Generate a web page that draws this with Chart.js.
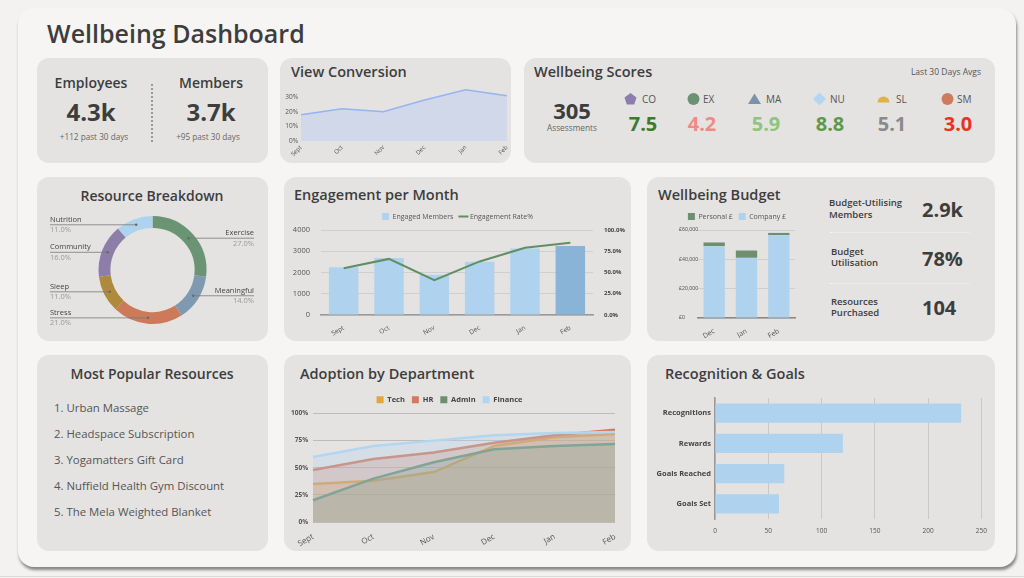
<!DOCTYPE html>
<html>
<head>
<meta charset="utf-8">
<script src="https://cdn.jsdelivr.net/npm/chart.js@4.4.0/dist/chart.umd.min.js"></script>
<style>
body{margin:0;width:1024px;height:578px;background:#f3f2f1;font-family:"Open Sans",sans-serif;color:#3d3d3d;overflow:hidden;position:relative;}
.frame{position:absolute;left:18px;top:8px;width:998px;height:559px;background:#f6f5f3;border-radius:16px;box-shadow:1px 3px 3px rgba(0,0,0,0.45);}
.edge{position:absolute;left:0;top:576px;width:1024px;height:1px;background:#dcdcdc;}
.panel{position:absolute;background:#e4e3e1;border-radius:12px;}
.t{position:absolute;white-space:nowrap;line-height:1;transform:translate(0,-50%);}
.c{transform:translate(-50%,-50%);}
.r{transform:translate(-100%,-50%);}
.h{font-weight:600;color:#3d3d3d;}
.box{position:absolute;}
.dots{position:absolute;border-top:1px dotted #f4f4f4;height:0;}
.vdots{position:absolute;border-left:2px dotted #9a9a9a;width:0;}
</style>
</head>
<body>
<div class="frame"></div>
<div class="edge"></div>

<div class="t h" style="left:47px;top:33px;font-size:25px;">Wellbeing Dashboard</div>

<!-- row 1 -->
<div class="panel" style="left:37px;top:58px;width:231px;height:105px;"></div>
<div class="panel" style="left:280px;top:58px;width:231px;height:105px;"></div>
<div class="panel" style="left:524px;top:58px;width:471px;height:105px;"></div>
<!-- row 2 -->
<div class="panel" style="left:37px;top:177px;width:231px;height:164px;"></div>
<div class="panel" style="left:284px;top:177px;width:347px;height:164px;"></div>
<div class="panel" style="left:647px;top:177px;width:348px;height:164px;"></div>
<!-- row 3 -->
<div class="panel" style="left:37px;top:355px;width:231px;height:196px;"></div>
<div class="panel" style="left:284px;top:355px;width:347px;height:196px;"></div>
<div class="panel" style="left:647px;top:355px;width:348px;height:196px;"></div>

<!-- employees / members -->
<div class="t c h" style="left:91px;top:83px;font-size:14px;">Employees</div>
<div class="t c" style="left:91px;top:112px;font-size:24px;font-weight:700;">4.3k</div>
<div class="t c" style="left:94px;top:137px;font-size:8.2px;color:#666;">+112 past 30 days</div>
<div class="vdots" style="left:151px;top:84px;height:58px;"></div>
<div class="t c h" style="left:211px;top:83px;font-size:14px;">Members</div>
<div class="t c" style="left:211px;top:112px;font-size:24px;font-weight:700;">3.7k</div>
<div class="t c" style="left:208px;top:137px;font-size:8.2px;color:#666;">+95 past 30 days</div>

<!-- view conversion -->
<div class="t h" style="left:291px;top:72px;font-size:14.5px;">View Conversion</div>
<div class="box" style="left:280px;top:80px;width:235px;height:82px;"><canvas id="viewChart"></canvas></div>

<!-- wellbeing scores -->
<div class="t h" style="left:534px;top:72px;font-size:14.5px;">Wellbeing Scores</div>
<div class="t r" style="left:981px;top:72px;font-size:8.5px;color:#555;">Last 30 Days Avgs</div>
<div class="t c" style="left:572px;top:110px;font-size:22px;font-weight:700;">305</div>
<div class="t c" style="left:572px;top:128px;font-size:8.3px;color:#666;">Assessments</div>
<div id="scores"></div>

<!-- resource breakdown -->
<div class="t c h" style="left:152px;top:196px;font-size:14px;">Resource Breakdown</div>
<div class="box" style="left:37px;top:205px;width:231px;height:130px;"><canvas id="resourceChart"></canvas></div>

<!-- engagement -->
<div class="t h" style="left:294px;top:195px;font-size:14.5px;">Engagement per Month</div>
<div class="box" style="left:284px;top:205px;width:347px;height:133px;"><canvas id="engageChart"></canvas></div>

<!-- budget -->
<div class="t h" style="left:658px;top:195px;font-size:14.5px;">Wellbeing Budget</div>
<div class="box" style="left:647px;top:205px;width:173px;height:133px;"><canvas id="budgetChart"></canvas></div>
<div class="t h" style="left:829px;top:203px;font-size:9.5px;">Budget-Utilising</div>
<div class="t h" style="left:829px;top:215px;font-size:9.5px;">Members</div>
<div class="t" style="left:922px;top:210px;font-size:20px;font-weight:700;">2.9k</div>
<div class="dots" style="left:830px;top:232px;width:140px;"></div>
<div class="t h" style="left:831px;top:252px;font-size:9.5px;">Budget</div>
<div class="t h" style="left:831px;top:263px;font-size:9.5px;">Utilisation</div>
<div class="t" style="left:922px;top:259px;font-size:20px;font-weight:700;">78%</div>
<div class="dots" style="left:830px;top:283px;width:140px;"></div>
<div class="t h" style="left:831px;top:302px;font-size:9.5px;">Resources</div>
<div class="t h" style="left:831px;top:313px;font-size:9.5px;">Purchased</div>
<div class="t" style="left:922px;top:308px;font-size:20px;font-weight:700;">104</div>

<!-- popular resources -->
<div class="t c h" style="left:152px;top:374px;font-size:14px;">Most Popular Resources</div>
<div id="popular"></div>

<!-- adoption -->
<div class="t h" style="left:300px;top:374px;font-size:14.5px;">Adoption by Department</div>
<div class="box" style="left:284px;top:385px;width:347px;height:163px;"><canvas id="adoptChart"></canvas></div>

<!-- recognition -->
<div class="t h" style="left:665px;top:374px;font-size:14.5px;">Recognition &amp; Goals</div>
<div class="box" style="left:647px;top:385px;width:348px;height:160px;"><canvas id="goalChart"></canvas></div>

<script>
const months=['Sept','Oct','Nov','Dec','Jan','Feb'];
const viewConversion=[18,22,20,28,35,31];

const engagedMembers=[2250,2680,1900,2510,3130,3250];
const engagementRate=[55,66,41,63,79,85];

const budgetMonths=['Dec','Jan','Feb'];
const personalBudget=[2500,5000,1500];
const companyBudget=[49000,41000,56500];

const resourceLabels=['Exercise','Meaningful','Stress','Sleep','Community','Nutrition'];
const resourceValues=[27,14,21,11,16,11];
const resourceColors=['#6a9474','#7f9ab0','#cd7a5b','#b08a3c','#8c7ea8','#add3ef'];

const deptTech=[35,38,46,70,78,81];
const deptHR=[48,58,64,73,80,85];
const deptAdmin=[20,40,55,67,70,72];
const deptFinance=[60,70,75,80,82,83];

const goalLabels=['Recognitions','Rewards','Goals Reached','Goals Set'];
const goalValues=[231,120,65,60];

const scoreCodes=['CO','EX','MA','NU','SL','SM'];
const scoreValues=['7.5','4.2','5.9','8.8','5.1','3.0'];
const scoreColors=['#3f7a2c','#f08a84','#8fc47f','#5c9a4a','#8a8a8a','#e8321e'];

const popularResources=['Urban Massage','Headspace Subscription','Yogamatters Gift Card','Nuffield Health Gym Discount','The Mela Weighted Blanket'];

// score row, icons are plain svg
const iconSvg={
    CO:'<polygon points="6.5,0.5 12.5,5 10.2,12 2.8,12 0.5,5" fill="#8d7cae"/>',
    EX:'<circle cx="6.5" cy="6.5" r="6" fill="#6b9273"/>',
    MA:'<polygon points="6.5,1 13,11.5 0,11.5" fill="#7a92aa"/>',
    NU:'<polygon points="6.5,0 13,6.5 6.5,13 0,6.5" fill="#b3d6f2"/>',
    SL:'<path d="M0.5,10 A6,6 0 0 1 12.5,10 Z" fill="#e0b04a"/>',
    SM:'<circle cx="6.5" cy="6.5" r="6" fill="#cf7c5e"/>'
};
const iconX=[630,693,754,819,883,947];
const labelX=[642,703,766,830,896,957];
const valueX=[643,702,766,830,892,958];
let scoreHtml="";
scoreCodes.forEach((code,i)=>{
    scoreHtml+=`<svg class="t" style="left:${iconX[i]-6.5}px;top:99px" width="13" height="13">${iconSvg[code]}</svg>`;
    scoreHtml+=`<div class="t" style="left:${labelX[i]}px;top:99px;font-size:10px;color:#555;">${code}</div>`;
    scoreHtml+=`<div class="t c" style="left:${valueX[i]}px;top:124px;font-size:20px;font-weight:700;color:${scoreColors[i]};">${scoreValues[i]}</div>`;
});
document.getElementById("scores").innerHTML=scoreHtml;

let popHtml="";
popularResources.forEach((name,i)=>{
    popHtml+=`<div class="t" style="left:54px;top:${408+i*26}px;font-size:11.4px;color:#555;">${i+1}. ${name}</div>`;
});
document.getElementById("popular").innerHTML=popHtml;

Chart.defaults.font.family='"Open Sans", sans-serif';
Chart.defaults.color='#555';
Chart.defaults.animation=false;
Chart.defaults.plugins.tooltip.enabled=false;

function solidLegend(chart){
    const items=Chart.defaults.plugins.legend.labels.generateLabels(chart);
    items.forEach(it=>{ it.fillStyle=it.strokeStyle; it.lineWidth=0; });
    return items;
}

// view conversion
new Chart(document.getElementById('viewChart'),{
    type:'line',
    data:{
        labels:months,
        datasets:[{
            data:viewConversion,
            borderColor:'#95b4f2',
            backgroundColor:'#d0d8ea',
            borderWidth:1.5,
            fill:'origin',
            pointRadius:0,
            tension:0
        }]
    },
    options:{
        responsive:true,
        maintainAspectRatio:false,
        layout:{padding:{top:0,right:0}},
        plugins:{legend:{display:false}},
        scales:{
            x:{
                offset:false,
                grid:{display:false,drawTicks:false},
                border:{display:false},
                ticks:{font:{size:6},minRotation:45,maxRotation:45,autoSkip:false,padding:3},
                afterFit:s=>{s.height=21;}
            },
            y:{
                min:0,max:37,
                grid:{display:false,drawTicks:false},
                border:{display:false},
                ticks:{font:{size:6.5},padding:3,stepSize:10,callback:v=>v%10===0?v+'%':''},
                afterFit:s=>{s.width=21;}
            }
        }
    }
});

// resource doughnut with callout labels
const calloutPlugin={
    id:'callouts',
    afterDraw(chart){
        const ctx=chart.ctx;
        const meta=chart.getDatasetMeta(0);
        const values=chart.data.datasets[0].data;
        const total=values.reduce((a,b)=>a+b,0);
        ctx.save();
        meta.data.forEach((arc,i)=>{
            const p=arc.getProps(['x','y','startAngle','endAngle','innerRadius','outerRadius'],true);
            const mid=(p.startAngle+p.endAngle)/2;
            const r=(p.innerRadius+p.outerRadius)/2;
            const ax=p.x+Math.cos(mid)*r;
            const ay=p.y+Math.sin(mid)*r;
            const right=Math.cos(mid)>0;
            const tx=right?chart.width-14:13;
            ctx.strokeStyle='#7a7a7a';
            ctx.lineWidth=0.8;
            ctx.beginPath();
            ctx.moveTo(tx,ay);
            ctx.lineTo(ax,ay);
            ctx.stroke();
            ctx.fillStyle='#6a6a6a';
            ctx.beginPath();
            ctx.arc(ax,ay,1.3,0,Math.PI*2);
            ctx.fill();
            ctx.textAlign=right?'right':'left';
            ctx.font='7.5px "Open Sans", sans-serif';
            ctx.fillStyle='#444';
            ctx.textBaseline='bottom';
            ctx.fillText(chart.data.labels[i],tx,ay-1.5);
            ctx.fillStyle='#999';
            ctx.textBaseline='top';
            ctx.fillText((values[i]/total*100).toFixed(1)+'%',tx,ay+1.5);
        });
        ctx.restore();
    }
};
new Chart(document.getElementById('resourceChart'),{
    type:'doughnut',
    data:{
        labels:resourceLabels,
        datasets:[{data:resourceValues,backgroundColor:resourceColors,borderWidth:0}]
    },
    options:{
        responsive:true,
        maintainAspectRatio:false,
        cutout:'78%',
        layout:{padding:{top:11,bottom:11}},
        plugins:{legend:{display:false}}
    },
    plugins:[calloutPlugin]
});

// engagement per month
new Chart(document.getElementById('engageChart'),{
    data:{
        labels:months,
        datasets:[
            {
                type:'bar',
                label:'Engaged Members',
                data:engagedMembers,
                backgroundColor:engagedMembers.map((v,i)=>i===engagedMembers.length-1?'#8ab3d8':'#afd2ee'),
                barPercentage:0.65,
                categoryPercentage:1,
                yAxisID:'y',
                order:2
            },
            {
                type:'line',
                label:'Engagement Rate%',
                data:engagementRate,
                borderColor:'#5f8f62',
                backgroundColor:'#5f8f62',
                borderWidth:2,
                pointRadius:0,
                tension:0,
                yAxisID:'y1',
                order:1
            }
        ]
    },
    options:{
        responsive:true,
        maintainAspectRatio:false,
        layout:{padding:{top:2}},
        plugins:{
            legend:{
                reverse:true,
                labels:{
                    font:{size:7},
                    boxWidth:7,boxHeight:7,padding:6,
                    generateLabels(chart){
                        const items=Chart.defaults.plugins.legend.labels.generateLabels(chart);
                        items.forEach(it=>{
                            if(it.text==='Engagement Rate%'){ it.fillStyle='rgba(0,0,0,0)'; it.lineWidth=0; }
                            else { it.fillStyle='#afd2ee'; it.lineWidth=0; }
                        });
                        return items;
                    }
                }
            }
        },
        scales:{
            x:{
                grid:{display:false},
                border:{color:'#999',width:1.5},
                ticks:{font:{size:6.5},minRotation:30,maxRotation:30,autoSkip:false,padding:1},
                afterFit:s=>{s.height=23;}
            },
            y:{
                position:'left',
                min:0,max:4000,
                grid:{color:'#d0cfcd',drawTicks:false},
                border:{display:false},
                ticks:{font:{size:7.5},padding:11,stepSize:1000,callback:v=>String(v)},
                afterFit:s=>{s.width=37;}
            },
            y1:{
                position:'right',
                min:0,max:100,
                grid:{display:false,drawTicks:false},
                border:{display:false},
                ticks:{font:{size:6,weight:'bold'},padding:11,color:'#444',stepSize:25,callback:v=>v.toFixed(1)+'%'},
                afterFit:s=>{s.width=38;}
            }
        }
    },
    plugins:[{
        id:'lineLegendMark',
        afterDraw(chart){
            const legend=chart.legend;
            const ctx=chart.ctx;
            legend.legendItems.forEach((it,i)=>{
                if(it.text!=='Engagement Rate%') return;
                const hb=legend.legendHitBoxes[i];
                ctx.save();
                ctx.strokeStyle='#5f8f62';
                ctx.lineWidth=2;
                ctx.beginPath();
                ctx.moveTo(hb.left-1,hb.top+hb.height/2);
                ctx.lineTo(hb.left+9,hb.top+hb.height/2);
                ctx.stroke();
                ctx.restore();
            });
        }
    }]
});

// budget
new Chart(document.getElementById('budgetChart'),{
    type:'bar',
    data:{
        labels:budgetMonths,
        datasets:[
            {label:'Company £',data:companyBudget,backgroundColor:'#afd2ee',barPercentage:0.66,categoryPercentage:1},
            {label:'Personal £',data:personalBudget,backgroundColor:'#6e8e70',barPercentage:0.66,categoryPercentage:1}
        ]
    },
    options:{
        responsive:true,
        maintainAspectRatio:false,
        layout:{padding:{top:2,left:32,right:25}},
        plugins:{
            legend:{
                reverse:true,
                labels:{font:{size:7},boxWidth:7,boxHeight:7,padding:6}
            }
        },
        scales:{
            x:{
                stacked:true,
                grid:{display:false},
                border:{color:'#888',width:1.5},
                ticks:{font:{size:7},minRotation:30,maxRotation:30,padding:1},
                afterFit:s=>{s.height=20;}
            },
            y:{
                stacked:true,
                min:0,max:60000,
                grid:{color:'#cfcecc',drawTicks:false},
                border:{display:false},
                ticks:{font:{size:5.3,family:'"Liberation Sans", sans-serif'},crossAlign:'far',stepSize:20000,callback:v=>'£'+v.toLocaleString('en-GB')},
                afterFit:s=>{s.width=19;}
            }
        }
    }
});

// adoption by department
const deptColors={Tech:'#e2a73c',HR:'#d27a5c',Admin:'#6e8e70',Finance:'#b2d5f2'};
function deptSet(label,data,order){
    const c=deptColors[label];
    const r=parseInt(c.slice(1,3),16),g=parseInt(c.slice(3,5),16),b=parseInt(c.slice(5,7),16);
    return {label,data,order,borderColor:c,backgroundColor:`rgba(${r},${g},${b},0.3)`,borderWidth:2.5,pointRadius:0,tension:0,fill:'origin'};
}
new Chart(document.getElementById('adoptChart'),{
    type:'line',
    data:{
        labels:months,
        datasets:[
            deptSet('Tech',deptTech,3),
            deptSet('HR',deptHR,2),
            deptSet('Admin',deptAdmin,1),
            deptSet('Finance',deptFinance,0)
        ]
    },
    options:{
        responsive:true,
        maintainAspectRatio:false,
        layout:{padding:{top:4,right:16}},
        plugins:{
            legend:{
                reverse:true,
                labels:{font:{size:7.5,weight:'bold'},color:'#444',boxWidth:7,boxHeight:7,padding:7,generateLabels:solidLegend}
            }
        },
        scales:{
            x:{
                offset:false,
                grid:{display:false},
                border:{display:false},
                ticks:{font:{size:8},minRotation:30,maxRotation:30,autoSkip:false,padding:2},
                afterFit:s=>{s.height=26;}
            },
            y:{
                min:0,max:100,
                grid:{color:'#bdbcba',drawTicks:false},
                border:{display:false},
                ticks:{font:{size:6.5,weight:'bold'},padding:5,color:'#555',stepSize:25,callback:v=>v+'%'},
                afterFit:s=>{s.width=29;}
            }
        }
    }
});

// recognition and goals
new Chart(document.getElementById('goalChart'),{
    type:'bar',
    data:{
        labels:goalLabels,
        datasets:[{data:goalValues,backgroundColor:'#afd2ee',barPercentage:0.64,categoryPercentage:1}]
    },
    options:{
        indexAxis:'y',
        responsive:true,
        maintainAspectRatio:false,
        layout:{padding:{top:13,right:12}},
        plugins:{legend:{display:false}},
        scales:{
            x:{
                min:0,max:250,
                grid:{color:'#c9c8c6',drawTicks:false},
                border:{display:false},
                ticks:{font:{size:6.5},padding:8,stepSize:50},
                afterFit:s=>{s.height=26;}
            },
            y:{
                grid:{display:false,drawTicks:false},
                border:{color:'#999',width:1.5},
                ticks:{font:{size:7.5,weight:'bold'},padding:4,color:'#444'},
                afterFit:s=>{s.width=68;}
            }
        }
    }
});
</script>
</body>
</html>
